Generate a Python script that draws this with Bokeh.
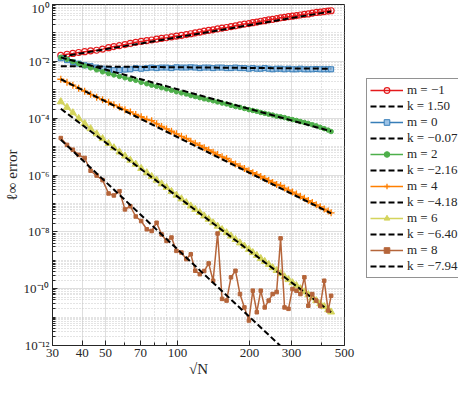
import numpy as np
from bokeh.plotting import figure
from bokeh.layouts import row
from bokeh.models import (Range1d, FixedTicker, CustomJSTickFormatter, Legend, LegendItem,
                          ColumnDataSource)
from bokeh.embed import file_html
from bokeh.resources import INLINE

# ---- data ----
sqrt_N = [32.5, 34.5, 36.5, 38.6, 40.9, 43.3, 45.9, 48.6, 51.5, 54.2, 57.2, 60.3, 63.5, 66.9,
          70.5, 74.4, 78.0, 81.8, 85.8, 90.0, 94.4, 99.0, 103.9, 108.9, 113.7, 118.7, 124.0,
          129.4, 135.1, 141.0, 147.2, 153.7, 160.5, 167.5, 174.9, 182.6, 190.6, 199.0, 206.7,
          214.8, 223.1, 231.8, 240.8, 250.2, 260.0, 270.1, 280.6, 291.5, 302.9, 314.7, 326.9,
          339.7, 352.9, 366.6, 380.9, 395.8, 411.2, 427.2, 439.6]

# log10 of the l-infinity error for each m
log10_err_m_neg1 = [-1.79, -1.75, -1.72, -1.69, -1.66, -1.63, -1.61, -1.57, -1.52, -1.48,
                    -1.45, -1.41, -1.37, -1.33, -1.30, -1.27, -1.25, -1.22, -1.19, -1.17,
                    -1.14, -1.11, -1.09, -1.06, -1.03, -1.00, -0.97, -0.94, -0.91, -0.89,
                    -0.86, -0.83, -0.81, -0.78, -0.75, -0.72, -0.69, -0.67, -0.64, -0.62,
                    -0.59, -0.57, -0.54, -0.52, -0.50, -0.47, -0.45, -0.43, -0.41, -0.39,
                    -0.37, -0.35, -0.33, -0.30, -0.28, -0.27, -0.25, -0.23, -0.22]
log10_err_m0 = [-1.89, -1.96, -2.03, -2.08, -2.14, -2.17, -2.22, -2.26, -2.29, -2.31,
                -2.31, -2.29, -2.28, -2.24, -2.26, -2.24, -2.22, -2.24, -2.22, -2.22,
                -2.24, -2.21, -2.22, -2.22, -2.21, -2.22, -2.24, -2.22, -2.22, -2.24,
                -2.22, -2.22, -2.24, -2.24, -2.22, -2.24, -2.24, -2.26, -2.24, -2.26,
                -2.26, -2.24, -2.26, -2.28, -2.26, -2.26, -2.28, -2.26, -2.28, -2.28,
                -2.26, -2.28, -2.28, -2.28, -2.27, -2.28, -2.28, -2.28, -2.28]
log10_err_m2 = [-1.86, -1.93, -2.01, -2.08, -2.16, -2.23, -2.30, -2.37, -2.43, -2.48,
                -2.53, -2.58, -2.63, -2.67, -2.74, -2.79, -2.84, -2.88, -2.93, -2.97,
                -3.02, -3.07, -3.11, -3.15, -3.20, -3.24, -3.28, -3.32, -3.35, -3.39,
                -3.43, -3.47, -3.50, -3.55, -3.59, -3.62, -3.66, -3.70, -3.73, -3.76,
                -3.80, -3.83, -3.86, -3.89, -3.93, -3.95, -3.98, -4.02, -4.05, -4.08,
                -4.12, -4.15, -4.19, -4.23, -4.27, -4.32, -4.37, -4.42, -4.47]
log10_err_m4 = [-2.63, -2.74, -2.84, -2.95, -3.05, -3.16, -3.26, -3.35, -3.44, -3.53,
                -3.61, -3.70, -3.78, -3.87, -3.95, -4.04, -4.09, -4.20, -4.29, -4.38,
                -4.46, -4.55, -4.64, -4.71, -4.81, -4.88, -4.96, -5.04, -5.12, -5.20,
                -5.28, -5.36, -5.42, -5.53, -5.61, -5.69, -5.77, -5.85, -5.92, -5.98,
                -6.05, -6.12, -6.19, -6.26, -6.33, -6.37, -6.46, -6.53, -6.60, -6.67,
                -6.75, -6.82, -6.90, -6.97, -7.05, -7.12, -7.20, -7.27, -7.33]
log10_err_m6 = [-3.42, -3.62, -3.81, -4.01, -4.19, -4.37, -4.55, -4.72, -4.89, -5.04,
                -5.19, -5.33, -5.48, -5.62, -5.77, -5.92, -6.05, -6.18, -6.31, -6.44,
                -6.58, -6.71, -6.84, -6.97, -7.09, -7.21, -7.32, -7.44, -7.56, -7.68,
                -7.80, -7.92, -8.03, -8.15, -8.27, -8.39, -8.50, -8.62, -8.73, -8.83,
                -8.94, -9.04, -9.15, -9.26, -9.36, -9.47, -9.58, -9.68, -9.79, -9.89,
                -10.00, -10.11, -10.21, -10.32, -10.42, -10.53, -10.63, -10.74, -10.82]
log10_err_m8 = [-4.70, -4.94, -5.11, -5.29, -5.40, -5.85, -6.02, -6.18, -6.65, -6.72,
                -6.57, -7.21, -7.10, -7.46, -7.62, -7.91, -7.97, -7.68, -8.09, -8.32,
                -8.20, -8.67, -8.73, -8.96, -8.79, -9.37, -9.49, -9.38, -9.11, -9.72,
                -8.06, -10.36, -10.42, -9.60, -9.37, -10.19, -10.66, -11.12, -10.07, -10.83,
                -10.07, -10.66, -10.42, -10.19, -10.12, -8.23, -10.66, -10.71, -10.01, -10.07,
                -10.19, -9.60, -10.60, -10.19, -10.42, -10.61, -9.72, -10.77, -10.25]

# fitted lines: end points (sqrt N, log10 error)
fit_x = [32.5, 439.6]
fit_x_m8 = [32.5, 300.0]
log10_fit_m_neg1 = [-1.84, -0.245]
log10_fit_m0 = [-2.17, -2.26]
log10_fit_m2 = [-1.86, -4.46]
log10_fit_m4 = [-2.63, -7.35]
log10_fit_m6 = [-3.67, -10.83]
log10_fit_m8 = [-4.76, -12.38]

series_labels = ["m = −1", "m = 0", "m = 2", "m = 4", "m = 6", "m = 8"]
fit_labels = ["k = 1.50", "k = −0.07", "k = −2.16", "k = −4.18", "k = −6.40", "k = −7.94"]
colors = ["#e41a1c", "#377eb8", "#4daf4a", "#ff7f00", "#d4d45c", "#b5653a"]
x_ticks = [30, 40, 50, 70, 100, 200, 300, 500]
x_minor = [60, 80, 90, 400]
y_ticks = [1e-12, 1e-10, 1e-8, 1e-6, 1e-4, 1e-2, 1e0]

FONT = "Liberation Serif"
INK = "#262626"

p = figure(width=360, height=379, x_axis_type="log", y_axis_type="log",
           x_range=Range1d(30, 500), y_range=Range1d(1e-12, 1),
           output_backend="svg", toolbar_location=None,
           min_border_left=48, min_border_right=16, min_border_top=4, min_border_bottom=0)
p.background_fill_color = "white"
p.outline_line_color = INK
p.outline_line_width = 1

y_minor = [k * 10.0 ** e for e in range(-12, 0) for k in range(1, 10) if not (k == 1 and e % 2 == 0)]
p.xaxis.ticker = FixedTicker(ticks=x_ticks, minor_ticks=x_minor)
p.yaxis.ticker = FixedTicker(ticks=y_ticks, minor_ticks=y_minor)
p.xaxis.formatter = CustomJSTickFormatter(code="return String(Math.round(tick));")
p.yaxis.formatter = CustomJSTickFormatter(code="""
const sup = {'-': '\u207b', '0': '\u2070', '1': '\u00b9', '2': '\u00b2', '3': '\u00b3',
             '4': '\u2074', '5': '\u2075', '6': '\u2076', '7': '\u2077', '8': '\u2078', '9': '\u2079'};
const e = Math.round(Math.log10(tick));
return '10' + String(e).split('').map(c => sup[c]).join('');
""")
for ax in (p.xaxis[0], p.yaxis[0]):
    ax.major_label_text_font = FONT
    ax.major_label_text_font_size = "13px"
    ax.major_label_text_color = INK
    ax.axis_label_text_font = FONT
    ax.axis_label_text_font_size = "15px"
    ax.axis_label_text_font_style = "normal"
    ax.axis_label_text_color = INK
    ax.axis_line_color = INK
    ax.major_tick_line_color = INK
    ax.minor_tick_line_color = INK
    ax.major_tick_in = 5
    ax.major_tick_out = 0
    ax.minor_tick_in = 3
    ax.minor_tick_out = 0
    ax.major_label_standoff = 3
    ax.axis_label_standoff = 1
p.xaxis.axis_label = "√N"
p.yaxis.axis_label = "ℓ∞ error"

p.grid.grid_line_color = "#dedede"
p.grid.grid_line_width = 1
p.grid.minor_grid_line_color = "#c8c8c8"
p.grid.minor_grid_line_dash = "1 2"
p.grid.minor_grid_line_width = 1

# a second, axis-less figure that only carries the legend
leg_fig = figure(width=98, height=379, output_backend="svg", toolbar_location=None,
                 min_border=0, x_range=Range1d(0, 1), y_range=Range1d(0, 1))
leg_fig.axis.visible = False
leg_fig.grid.visible = False
leg_fig.outline_line_color = None

markers = ["circle", "square", "circle", "cross", "triangle", "square"]
sizes = [6, 5, 4.5, 7, 7, 3.5]
xs = np.array(sqrt_N)
data = [log10_err_m_neg1, log10_err_m0, log10_err_m2, log10_err_m4, log10_err_m6, log10_err_m8]
fits = [log10_fit_m_neg1, log10_fit_m0, log10_fit_m2, log10_fit_m4, log10_fit_m6, log10_fit_m8]
fit_xs = [fit_x, fit_x, fit_x, fit_x, fit_x, fit_x_m8]


def add_series(fig, src, i):
    c = colors[i]
    lr = fig.line("x", "y", source=src, line_color=c, line_width=1.5)
    if i == 0:
        sr = fig.scatter("x", "y", source=src, marker="circle", size=sizes[i], line_color=c,
                         fill_color="white", fill_alpha=0.0, line_width=1.2)
    elif markers[i] == "cross":
        sr = fig.scatter("x", "y", source=src, marker="cross", size=sizes[i], line_color=c,
                         line_width=1.3)
    elif i == 1:
        sr = fig.scatter("x", "y", source=src, marker="square", size=sizes[i], line_color=c,
                         fill_color="#9dc3e6", line_width=1)
    else:
        sr = fig.scatter("x", "y", source=src, marker=markers[i], size=sizes[i], line_color=c,
                         fill_color=c, line_width=1)
    return lr, sr


def add_fit(fig, src):
    return fig.line("x", "y", source=src, line_color="black", line_width=2, line_dash="6 3")


items = []
for i in range(6):
    src = ColumnDataSource(dict(x=xs, y=10.0 ** np.array(data[i])))
    fsrc = ColumnDataSource(dict(x=fit_xs[i], y=10.0 ** np.array(fits[i])))
    add_series(p, src, i)
    add_fit(p, fsrc)
    # legend-only copies: same data, which lies outside the legend figure's visible range
    lr, sr = add_series(leg_fig, src, i)
    fr = add_fit(leg_fig, fsrc)
    items.append(LegendItem(label=series_labels[i], renderers=[lr, sr]))
    items.append(LegendItem(label=fit_labels[i], renderers=[fr]))

legend = Legend(items=items, location=(6, 67))
legend.label_text_font = FONT
legend.label_text_font_size = "13px"
legend.label_text_color = INK
legend.glyph_width = 33
legend.glyph_height = 14
legend.label_height = 14
legend.spacing = -5
legend.padding = 3
legend.margin = 0
legend.label_standoff = 4
legend.border_line_color = INK
legend.border_line_width = 1
legend.background_fill_alpha = 1.0
leg_fig.add_layout(legend, "center")

layout = row(p, leg_fig, spacing=0)
open("out.html", "w").write(file_html(layout, INLINE))
